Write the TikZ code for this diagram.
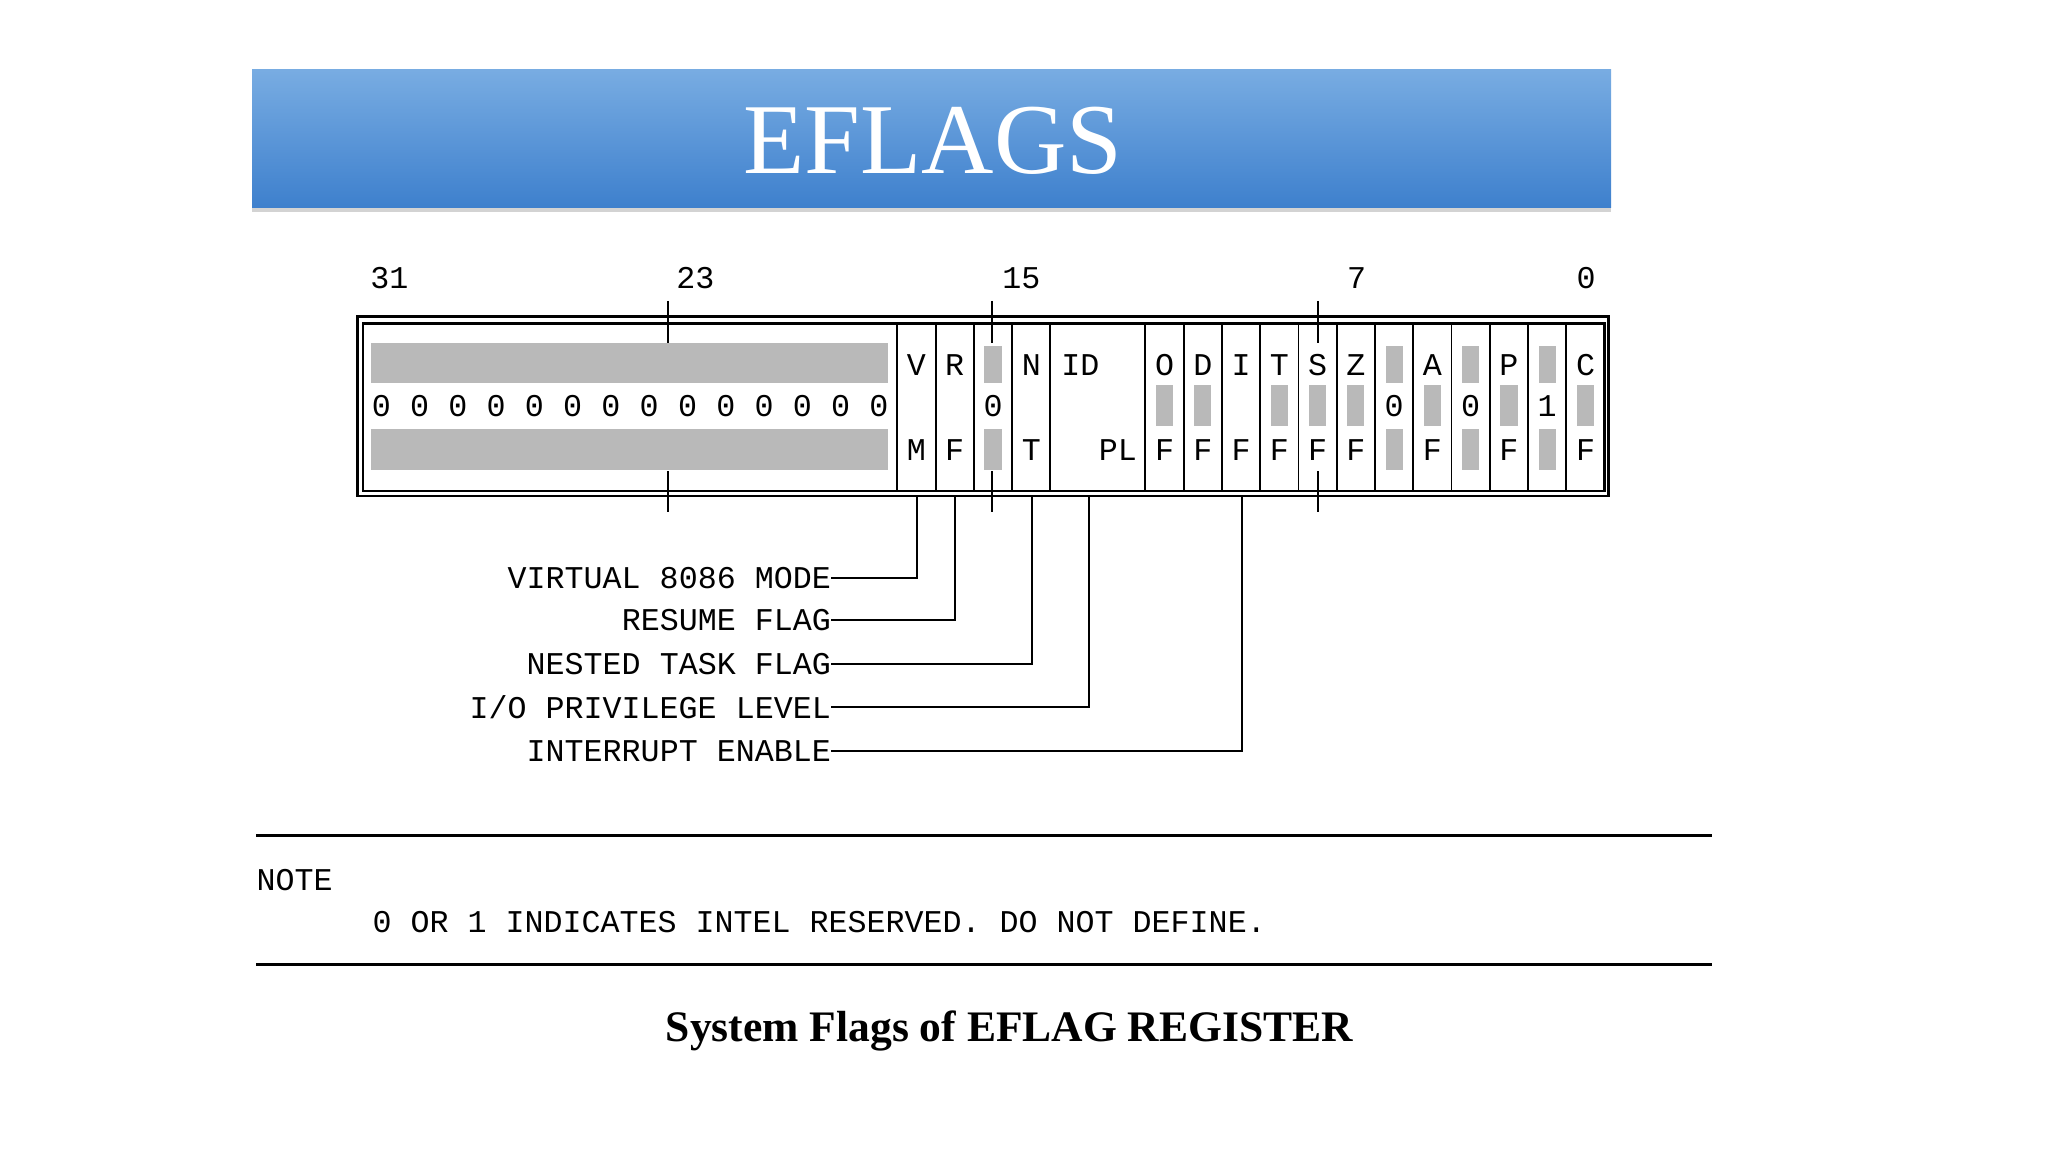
\documentclass[tikz,border=0pt]{standalone}
\usepackage{fontspec}
\setmainfont{Liberation Serif}
\newfontfamily\regmono{Liberation Mono}
\usetikzlibrary{shadows}
\begin{document}
\begin{tikzpicture}[x=0.5pt,y=-0.5pt,
  mono/.style={font=\regmono\fontsize{12}{14}\selectfont,inner sep=0pt},
  lbl/.style={mono,anchor=east},
  shade/.style={fill=gray!55,draw=none},
  wire/.style={draw=black,line width=0.7pt}]
\useasboundingbox (0,0) rectangle (1552,873);
% header
\shade[top color={rgb,255:red,120;green,172;blue,226},bottom color={rgb,255:red,62;green,128;blue,205},drop shadow={shadow xshift=0pt,shadow yshift=-2pt,opacity=0.35}]
  (191,53) rectangle (1221,157);
\node[text=white,font=\fontsize{38}{42}\selectfont] (title) at (707,107) {EFLAGS};
% bit numbers
\foreach \t/\x in {31/295,23/527,15/774,7/1028,0/1202}
  \node[mono] (b\t) at (\x,211) {\t};
% register frame
\draw[line width=1pt] (271,240) rectangle (1219,376);
\draw[line width=1pt] (275,245) rectangle (1216,372);
% reserved area
\fill[gray!55] (281,260) rectangle (673,290);
\fill[gray!55] (281,325) rectangle (673,356);
\foreach \i in {0,...,13} \node[mono] at (289+29*\i,308) {0};
% separators
\foreach \x in {680,709,738,767,796,868,897,926,955,984,1013,1042,1071,1100,1129,1158,1187}
  \draw[wire] (\x,246) -- (\x,371);
% shaded stripes
\foreach \x in {738,1042,1100,1158}{
  \fill[gray!55] (\x+8,262) rectangle (\x+21,290);
  \fill[gray!55] (\x+8,325) rectangle (\x+21,356);}
\foreach \x in {868,897,955,984,1013,1071,1129,1187}
  \fill[gray!55] (\x+8,292) rectangle (\x+21,323);
% cell texts
\foreach \x/\a/\b in {680/V/M,709/R/F,767/N/T,868/O/F,897/D/F,926/I/F,955/T/F,984/S/F,1013/Z/F,1071/A/F,1129/P/F,1187/C/F}{
  \node[mono] at (\x+14.5,277) {\a};
  \node[mono] at (\x+14.5,341) {\b};}
\foreach \x/\d in {738/0,1042/0,1100/0,1158/1}
  \node[mono] at (\x+14.5,308) {\d};
\node[mono,anchor=west] at (804,277) {ID};
\node[mono,anchor=east] at (862,341) {PL};
% ticks
\foreach \x in {506,752,999}{
  \draw[wire] (\x,228) -- (\x,260);
  \draw[wire] (\x,357) -- (\x,388);}
% cell anchor coordinates
\coordinate (vm) at (695,376);
\coordinate (rf) at (724,376);
\coordinate (nt) at (782,376);
\coordinate (iopl) at (825,376);
\coordinate (if) at (941,376);
% labels
\node[lbl] (lvm) at (630,438) {VIRTUAL 8086 MODE};
\node[lbl] (lrf) at (630,470) {RESUME FLAG};
\node[lbl] (lnt) at (630,503) {NESTED TASK FLAG};
\node[lbl] (lio) at (630,536) {I/O PRIVILEGE LEVEL};
\node[lbl] (lif) at (630,569) {INTERRUPT ENABLE};
\draw[wire] (vm) |- (lvm.east);
\draw[wire] (rf) |- (lrf.east);
\draw[wire] (nt) |- (lnt.east);
\draw[wire] (iopl) |- (lio.east);
\draw[wire] (if) |- (lif.east);
% note
\draw[line width=1pt] (194,633) -- (1297,633);
\draw[line width=1pt] (194,731) -- (1297,731);
\node[mono,anchor=west] (note) at (194,667) {NOTE};
\node[mono,anchor=west] (notetext) at (282,699) {0 OR 1 INDICATES INTEL RESERVED. DO NOT DEFINE.};
\node[font=\bfseries\fontsize{16.5}{20}\selectfont] (cap) at (765,781) {System Flags of EFLAG REGISTER};
\end{tikzpicture}
\end{document}
